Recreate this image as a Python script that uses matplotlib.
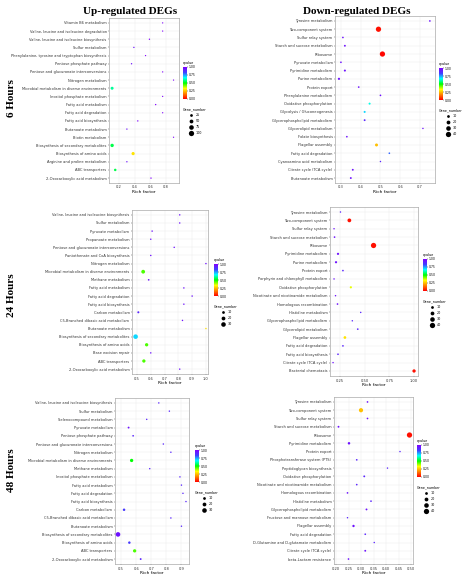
import matplotlib
matplotlib.use("Agg")
import matplotlib.pyplot as plt
from matplotlib.colors import LinearSegmentedColormap, Normalize
import matplotlib.cm as cm

W, H = 474, 583
fig = plt.figure(figsize=(W/100, H/100), dpi=100)
fig.patch.set_facecolor("white")
cmap = LinearSegmentedColormap.from_list("rb", ["#ff0000", "#ff8000", "#ffff00", "#00ff00", "#00ffff", "#4040ff", "#8000ff"])
norm = Normalize(0, 1)

# ---------------- data ----------------
p1_cats = ["Vitamin B6 metabolism", "Valine, leucine and isoleucine degradation", "Valine, leucine and isoleucine biosynthesis",
           "Sulfur metabolism", "Phenylalanine, tyrosine and tryptophan biosynthesis", "Pentose phosphate pathway",
           "Pentose and glucuronate interconversions", "Nitrogen metabolism", "Microbial metabolism in diverse environments",
           "Inositol phosphate metabolism", "Fatty acid metabolism", "Fatty acid degradation", "Fatty acid biosynthesis",
           "Butanoate metabolism", "Biotin metabolism", "Biosynthesis of secondary metabolites", "Biosynthesis of amino acids",
           "Arginine and proline metabolism", "ABC transporters", "2-Oxocarboxylic acid metabolism"]
p1_rich = [0.76, 0.76, 0.59, 0.39, 0.54, 0.36, 0.76, 0.90, 0.11, 0.76, 0.67, 0.76, 0.44, 0.30, 0.90, 0.11, 0.38, 0.30, 0.15, 0.61]
p1_gene = [3, 3, 4, 4, 3, 4, 3, 3, 30, 3, 4, 3, 4, 4, 3, 40, 35, 4, 20, 4]
p1_q = [1, 1, 1, .95, 1, .95, 1, 1, .6, 1, 1, 1, 1, .95, 1, .55, .3, .95, .55, 1]

p2_cats = ["Tyrosine metabolism", "Two-component system", "Sulfur relay system", "Starch and sucrose metabolism", "Ribosome",
           "Pyruvate metabolism", "Pyrimidine metabolism", "Purine metabolism", "Protein export", "Phenylalanine metabolism",
           "Oxidative phosphorylation", "Glycolysis / Gluconeogenesis", "Glycerophospholipid metabolism",
           "Glycerolipid metabolism", "Folate biosynthesis", "Flagellar assembly", "Fatty acid degradation",
           "Cyanoamino acid metabolism", "Citrate cycle (TCA cycle)", "Butanoate metabolism"]
p2_rich = [0.75, 0.49, 0.31, 0.32, 0.51, 0.30, 0.32, 0.29, 0.39, 0.50, 0.445, 0.42, 0.42, 0.715, 0.33, 0.48, 0.545, 0.50, 0.36, 0.35]
p2_gene = [3, 40, 3, 4, 40, 3, 5, 6, 3, 3, 5, 5, 4, 2, 3, 12, 3, 2, 4, 4]
p2_q = [.95, .02, .95, .95, .01, .95, .95, .95, .95, .95, .65, .7, .9, .95, .95, .25, .8, .9, .95, .95]

p3_cats = ["Valine, leucine and isoleucine biosynthesis", "Sulfur metabolism", "Pyruvate metabolism", "Propanoate metabolism",
           "Pentose and glucuronate interconversions", "Pantothenate and CoA biosynthesis", "Nitrogen metabolism",
           "Microbial metabolism in diverse environments", "Methane metabolism", "Fatty acid metabolism",
           "Fatty acid degradation", "Fatty acid biosynthesis", "Carbon metabolism", "C5-Branched dibasic acid metabolism",
           "Butanoate metabolism", "Biosynthesis of secondary metabolites", "Biosynthesis of amino acids",
           "Base excision repair", "ABC transporters", "2-Oxocarboxylic acid metabolism"]
p3_rich = [0.81, 0.81, 0.61, 0.60, 0.77, 0.60, 1.0, 0.545, 0.585, 0.84, 0.90, 0.84, 0.51, 0.83, 1.0, 0.49, 0.57, 0.60, 0.55, 0.81]
p3_gene = [2, 2, 2, 2, 2, 2, 2, 20, 3, 2, 2, 2, 5, 2, 2, 30, 15, 2, 15, 2]
p3_q = [.95, .95, .95, .95, .95, .95, .95, .45, .95, .95, .95, .95, .9, .95, .3, .7, .45, .95, .45, .95]

p4_cats = ["Tyrosine metabolism", "Two-component system", "Sulfur relay system", "Starch and sucrose metabolism", "Ribosome",
           "Pyrimidine metabolism", "Purine metabolism", "Protein export", "Porphyrin and chlorophyll metabolism",
           "Oxidative phosphorylation", "Nicotinate and nicotinamide metabolism", "Homologous recombination",
           "Histidine metabolism", "Glycerophospholipid metabolism", "Glycerolipid metabolism", "Flagellar assembly",
           "Fatty acid degradation", "Fatty acid biosynthesis", "Citrate cycle (TCA cycle)", "Bacterial chemotaxis"]
p4_rich = [0.255, 0.345, 0.19, 0.195, 0.59, 0.23, 0.21, 0.28, 0.19, 0.36, 0.205, 0.225, 0.46, 0.375, 0.43, 0.30, 0.28, 0.23, 0.18, 1.00]
p4_gene = [2, 20, 2, 3, 40, 6, 6, 3, 2, 6, 2, 3, 2, 2, 3, 10, 3, 3, 2, 15]
p4_q = [.9, .02, .95, .95, .02, .95, .95, .9, .95, .35, .95, .95, .9, .9, .9, .3, .9, .9, .95, .02]

p5_cats = ["Valine, leucine and isoleucine biosynthesis", "Sulfur metabolism", "Selenocompound metabolism",
           "Pyruvate metabolism", "Pentose phosphate pathway", "Pentose and glucuronate interconversions",
           "Nitrogen metabolism", "Microbial metabolism in diverse environments", "Methane metabolism",
           "Inositol phosphate metabolism", "Fatty acid metabolism", "Fatty acid degradation", "Fatty acid biosynthesis",
           "Carbon metabolism", "C5-Branched dibasic acid metabolism", "Butanoate metabolism",
           "Biosynthesis of secondary metabolites", "Biosynthesis of amino acids", "ABC transporters",
           "2-Oxocarboxylic acid metabolism"]
p5_rich = [0.75, 0.82, 0.67, 0.55, 0.58, 0.78, 0.83, 0.57, 0.69, 0.89, 0.90, 0.91, 0.93, 0.52, 0.83, 0.90, 0.48, 0.555, 0.59, 0.63]
p5_gene = [2, 2, 2, 4, 3, 2, 2, 15, 2, 2, 2, 2, 2, 8, 2, 2, 30, 8, 15, 4]
p5_q = [.9, .9, .9, .95, .9, .9, .9, .5, .9, .9, .9, .9, .9, .85, .9, .9, .95, .85, .45, .9]

p6_cats = ["Tyrosine metabolism", "Two-component system", "Sulfur relay system", "Starch and sucrose metabolism", "Ribosome",
           "Pyrimidine metabolism", "Protein export", "Phosphotransferase system (PTS)", "Peptidoglycan biosynthesis",
           "Oxidative phosphorylation", "Nicotinate and nicotinamide metabolism", "Homologous recombination",
           "Histidine metabolism", "Glycerophospholipid metabolism", "Fructose and mannose metabolism",
           "Flagellar assembly", "Fatty acid degradation", "D-Glutamine and D-glutamate metabolism",
           "Citrate cycle (TCA cycle)", "beta-Lactam resistance"]
p6_rich = [0.326, 0.30, 0.326, 0.21, 0.494, 0.252, 0.456, 0.283, 0.406, 0.313, 0.283, 0.246, 0.34, 0.322, 0.246, 0.27, 0.317, 0.353, 0.317, 0.25]
p6_gene = [3, 25, 3, 4, 40, 8, 2, 3, 2, 4, 3, 3, 3, 4, 2, 7, 3, 2, 4, 3]
p6_q = [.95, .25, .95, .95, .02, .95, .9, .9, .9, .9, .9, .95, .9, .95, .9, .95, .9, .9, .95, .95]

panels = [
    dict(c=p1_cats, x=p1_rich, g=p1_gene, q=p1_q, box=(109, 18, 179, 183), xlim=(0.07, 0.97), ticks=[0.2, 0.4, 0.6, 0.8], fmt="%.1f", leg=[25, 50, 75, 100], cb=(183, 67), gmax=100),
    dict(c=p2_cats, x=p2_rich, g=p2_gene, q=p2_q, box=(335, 16, 435, 183), xlim=(0.27, 0.776), ticks=[0.3, 0.4, 0.5, 0.6, 0.7], fmt="%.1f", leg=[10, 20, 30, 40], cb=(439, 68), gmax=40),
    dict(c=p3_cats, x=p3_rich, g=p3_gene, q=p3_q, box=(132, 210, 208, 374), xlim=(0.464, 1.015), ticks=[0.5, 0.6, 0.7, 0.8, 0.9, 1.0], fmt="%.1f", leg=[10, 20, 30], cb=(214, 264), gmax=40),
    dict(c=p4_cats, x=p4_rich, g=p4_gene, q=p4_q, box=(330, 207, 418, 376), xlim=(0.149, 1.04), ticks=[0.25, 0.5, 0.75, 1.0], fmt="%.2f", leg=[10, 20, 30, 40], cb=(423, 259), gmax=40),
    dict(c=p5_cats, x=p5_rich, g=p5_gene, q=p5_q, box=(115, 398, 189, 564), xlim=(0.46, 0.95), ticks=[0.5, 0.6, 0.7, 0.8, 0.9], fmt="%.1f", leg=[10, 20, 30], cb=(195, 450), gmax=40),
    dict(c=p6_cats, x=p6_rich, g=p6_gene, q=p6_q, box=(334, 397, 413, 564), xlim=(0.192, 0.508), ticks=[0.20, 0.25, 0.30, 0.35, 0.40, 0.45, 0.50], fmt="%.2f", leg=[10, 20, 30, 40], cb=(417, 445), gmax=40),
]

def fbox(l, t, r, b):
    return [l/W, 1-b/H, (r-l)/W, (b-t)/H]

fs = 2.6
for p in panels:
    ax = fig.add_axes(fbox(*p["box"]))
    n = len(p["c"])
    ys = list(range(n))[::-1]
    size = lambda g: 0.4 + g * 14.0 / p["gmax"]
    ax.scatter(p["x"], ys, s=[size(g) for g in p["g"]], c=p["q"], cmap=cmap, norm=norm, linewidths=0, zorder=3)
    ax.set_xlim(*p["xlim"])
    ax.set_ylim(-0.6, n - 0.4)
    ax.set_yticks(ys)
    ax.set_yticklabels(p["c"], fontsize=fs)
    ax.set_xticks(p["ticks"])
    ax.set_xticklabels([p["fmt"] % t for t in p["ticks"]], fontsize=fs)
    ax.set_xlabel("Rich factor", fontsize=3.2, labelpad=0.5)
    ax.tick_params(length=1, width=0.3, pad=0.8, colors="#333333")
    ax.grid(True, color="#ebebeb", linewidth=0.3, zorder=0)
    ax.set_axisbelow(True)
    for s in ax.spines.values():
        s.set_color("#aaaaaa"); s.set_linewidth(0.5)
    cx, cy = p["cb"]
    cax = fig.add_axes(fbox(cx, cy, cx + 4, cy + 32))
    cb = fig.colorbar(cm.ScalarMappable(norm=norm, cmap=cmap), cax=cax, ticks=[0, 0.25, 0.5, 0.75, 1])
    cb.ax.set_yticklabels(["0.00", "0.25", "0.50", "0.75", "1.00"], fontsize=2.2)
    cb.ax.tick_params(length=0.8, width=0.3, pad=0.5)
    cb.outline.set_linewidth(0)
    fig.text(cx/W, 1-(cy-2)/H, "qvalue", fontsize=2.4, va="bottom")
    handles = [ax.scatter([], [], s=size(v), color="black", linewidths=0) for v in p["leg"]]
    ax.legend(handles, [str(v) for v in p["leg"]], title="Gene_number", fontsize=2.4, title_fontsize=2.4,
              frameon=False, loc="upper left", bbox_to_anchor=(cx/W - 0.004, 1-(cy+38)/H),
              bbox_transform=fig.transFigure, handletextpad=0.3, labelspacing=0.6, borderpad=0.1)

serif = ["Liberation Serif", "DejaVu Serif"]
fig.text(130/W, 1-12/H, "Up-regulated DEGs", fontsize=8, fontweight="bold", family=serif, ha="center", va="center")
fig.text(357/W, 1-12/H, "Down-regulated DEGs", fontsize=8, fontweight="bold", family=serif, ha="center", va="center")
for y, lab in [(98, "6 Hours"), (295, "24 Hours"), (470, "48 Hours")]:
    fig.text(12/W, 1-y/H, lab, fontsize=8, fontweight="bold", family=serif, rotation=90, ha="center", va="center")

fig.savefig("out.png", dpi=100)
